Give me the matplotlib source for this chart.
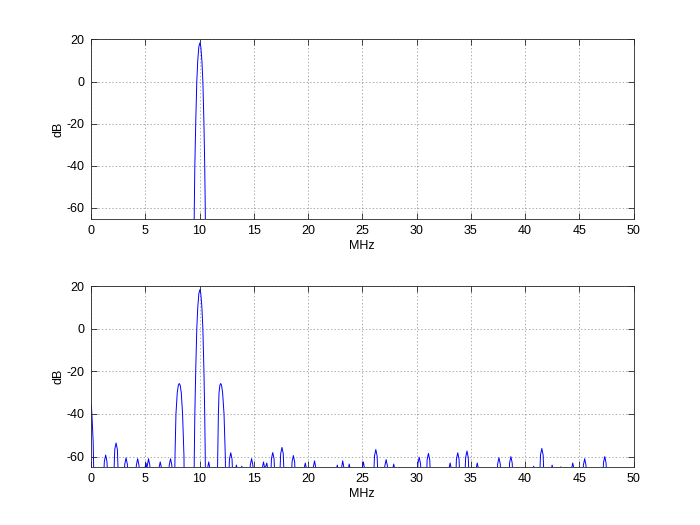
import matplotlib
matplotlib.use('Agg')
import matplotlib.pyplot as plt

plt.rcParams['font.family'] = ['Liberation Sans', 'DejaVu Sans']
plt.rcParams['axes.unicode_minus'] = False

# spectre du haut : lobe principal seul (MHz, dB)
top_f = [9.49, 9.52, 9.57, 9.65, 9.75, 9.84, 9.94, 10.03, 10.12, 10.22, 10.31,
         10.41, 10.48, 10.53, 10.56]
top_db = [-80, -60, -40, -20, 0, 10, 16.5, 18.3, 16.5, 10, 0,
          -20, -40, -60, -80]

# spectre du bas : lobe principal + lobes secondaires (MHz, dB)
bot_f = [0.0, 0.05, 0.1, 0.2, 0.3,
         1.07, 1.23, 1.35, 1.47, 1.63,
         2.03, 2.19, 2.31, 2.43, 2.59,
         2.95, 3.11, 3.23, 3.35, 3.51,
         4.02, 4.18, 4.30, 4.42, 4.58,
         4.9, 5.0, 5.07, 5.15, 5.3, 5.42, 5.58,
         6.1, 6.26, 6.38, 6.5, 6.66,
         7.1, 7.21, 7.33, 7.45, 7.55,
         7.7, 7.74, 7.83, 7.95, 8.05, 8.13, 8.22, 8.32, 8.44, 8.57, 8.6,
         9.49, 9.52, 9.57, 9.65, 9.75, 9.84, 9.94, 10.03, 10.12, 10.22, 10.31,
         10.41, 10.48, 10.53, 10.56,
         10.65, 10.76, 10.85, 10.94, 11.05,
         11.62, 11.68, 11.74, 11.8, 11.88, 11.95, 12.03, 12.13, 12.26, 12.38, 12.42,
         12.62, 12.76, 12.88, 13.0, 13.14,
         13.25, 13.34, 13.4, 13.46, 13.55,
         13.75, 13.84, 13.9, 13.96, 14.05,
         14.55, 14.68, 14.8, 14.92, 15.05,
         15.7, 15.8, 15.9, 16.03, 16.2, 16.3, 16.45,
         16.5, 16.63, 16.75, 16.87, 17.05,
         17.32, 17.48, 17.6, 17.72, 17.88,
         18.4, 18.53, 18.65, 18.77, 18.92,
         19.55, 19.65, 19.75, 19.85, 19.95,
         20.38, 20.49, 20.6, 20.71, 20.82,
         22.52, 22.62, 22.7, 22.78, 22.9,
         23.0, 23.1, 23.2, 23.3, 23.42,
         23.6, 23.71, 23.8, 23.89, 24.0,
         24.88, 24.99, 25.1, 25.21, 25.32,
         25.97, 26.13, 26.25, 26.37, 26.53,
         26.96, 27.08, 27.2, 27.32, 27.48,
         27.7, 27.8, 27.9, 28.0, 28.1,
         30.0, 30.13, 30.25, 30.37, 30.55,
         30.85, 30.98, 31.1, 31.22, 31.37,
         32.9, 33.0, 33.1, 33.2, 33.32,
         33.55, 33.68, 33.8, 33.92, 34.08,
         34.37, 34.53, 34.65, 34.77, 34.93,
         35.4, 35.5, 35.6, 35.7, 35.82,
         37.35, 37.48, 37.6, 37.72, 37.88,
         38.45, 38.58, 38.7, 38.82, 38.97,
         40.62, 40.72, 40.8, 40.88, 41.0,
         41.28, 41.43, 41.55, 41.67, 41.83,
         42.32, 42.42, 42.5, 42.58, 42.7,
         43.12, 43.22, 43.3, 43.38, 43.5,
         44.2, 44.3, 44.4, 44.5, 44.62,
         45.27, 45.38, 45.5, 45.62, 45.76,
         47.1, 47.23, 47.35, 47.47, 47.62]
bot_db = [-36, -37.5, -42, -53, -80,
          -80, -62.3, -59.3, -62.3, -80,
          -80, -56.6, -53.6, -56.6, -80,
          -80, -63.6, -60.6, -63.6, -80,
          -80, -64, -61, -64, -80,
          -80, -64.5, -63, -65.5, -61, -64, -80,
          -80, -65.5, -62.5, -65.5, -80,
          -80, -64, -61, -64, -80,
          -80, -60, -40, -30, -26.5, -25.7, -26.5, -30, -40, -60, -80,
          -80, -60, -40, -20, 0, 10, 16.5, 18.3, 16.5, 10, 0,
          -20, -40, -60, -80,
          -80, -65, -62.5, -65, -80,
          -80, -60, -40, -30, -26.5, -25.7, -26.5, -30, -40, -60, -80,
          -80, -61.2, -58.2, -61.2, -80,
          -80, -65.5, -64, -65.5, -80,
          -80, -66, -64.5, -66, -80,
          -80, -64, -61, -64, -80,
          -80, -65, -62.5, -66, -63, -66, -80,
          -80, -61, -58.1, -61, -80,
          -80, -58.7, -55.7, -58.7, -80,
          -80, -62.5, -59.5, -62.5, -80,
          -80, -65.5, -63, -65.5, -80,
          -80, -65, -62, -65, -80,
          -80, -66, -64, -66, -80,
          -80, -65, -62, -65, -80,
          -80, -66, -63.5, -66, -80,
          -80, -65.5, -62.5, -65.5, -80,
          -80, -59.7, -56.7, -59.7, -80,
          -80, -64.4, -61.4, -64.4, -80,
          -80, -66, -63.5, -66, -80,
          -80, -63.3, -60.3, -63.3, -80,
          -80, -61.5, -58.5, -61.5, -80,
          -80, -65.5, -63, -65.5, -80,
          -80, -61.2, -58.2, -61.2, -80,
          -80, -60.4, -57.4, -60.4, -80,
          -80, -65.5, -63, -65.5, -80,
          -80, -63.5, -60.5, -63.5, -80,
          -80, -63, -60, -63, -80,
          -80, -66.5, -64.5, -66.5, -80,
          -80, -59.2, -56.2, -59.2, -80,
          -80, -66, -64, -66, -80,
          -80, -66.5, -64.8, -66.5, -80,
          -80, -65.5, -63, -65.5, -80,
          -80, -64, -61, -64, -80,
          -80, -63, -60, -63, -80]

xticks = [0, 5, 10, 15, 20, 25, 30, 35, 40, 45, 50]
yticks = [-60, -40, -20, 0, 20]


def style(ax):
    ax.set_xlim(0, 50)
    ax.set_ylim(-65, 20)
    ax.set_xticks(xticks)
    ax.set_yticks(yticks)
    ax.tick_params(direction='in', length=4, width=0.5, labelsize=9,
                   top=True, right=True, pad=4.5)
    for s in ax.spines.values():
        s.set_linewidth(0.6)
        s.set_color('0.15')
    ax.grid(True, color='0.55', linestyle=(0, (2, 3)), linewidth=0.5)
    ax.set_axisbelow(True)
    ax.set_xlabel('MHz', fontsize=9, labelpad=2)
    ax.set_ylabel('dB', fontsize=9, labelpad=1.5)


fig = plt.figure(figsize=(7, 5.25), dpi=100)
ax1 = fig.add_axes([0.13, 0.5838, 0.775, 0.3412])
ax2 = fig.add_axes([0.13, 0.11, 0.775, 0.345])

ax1.plot(top_f, top_db, color='b', lw=0.7)
style(ax1)

ax2.plot(bot_f, bot_db, color='b', lw=0.7)
style(ax2)

plt.savefig('out.png', dpi=100)
plt.close()
